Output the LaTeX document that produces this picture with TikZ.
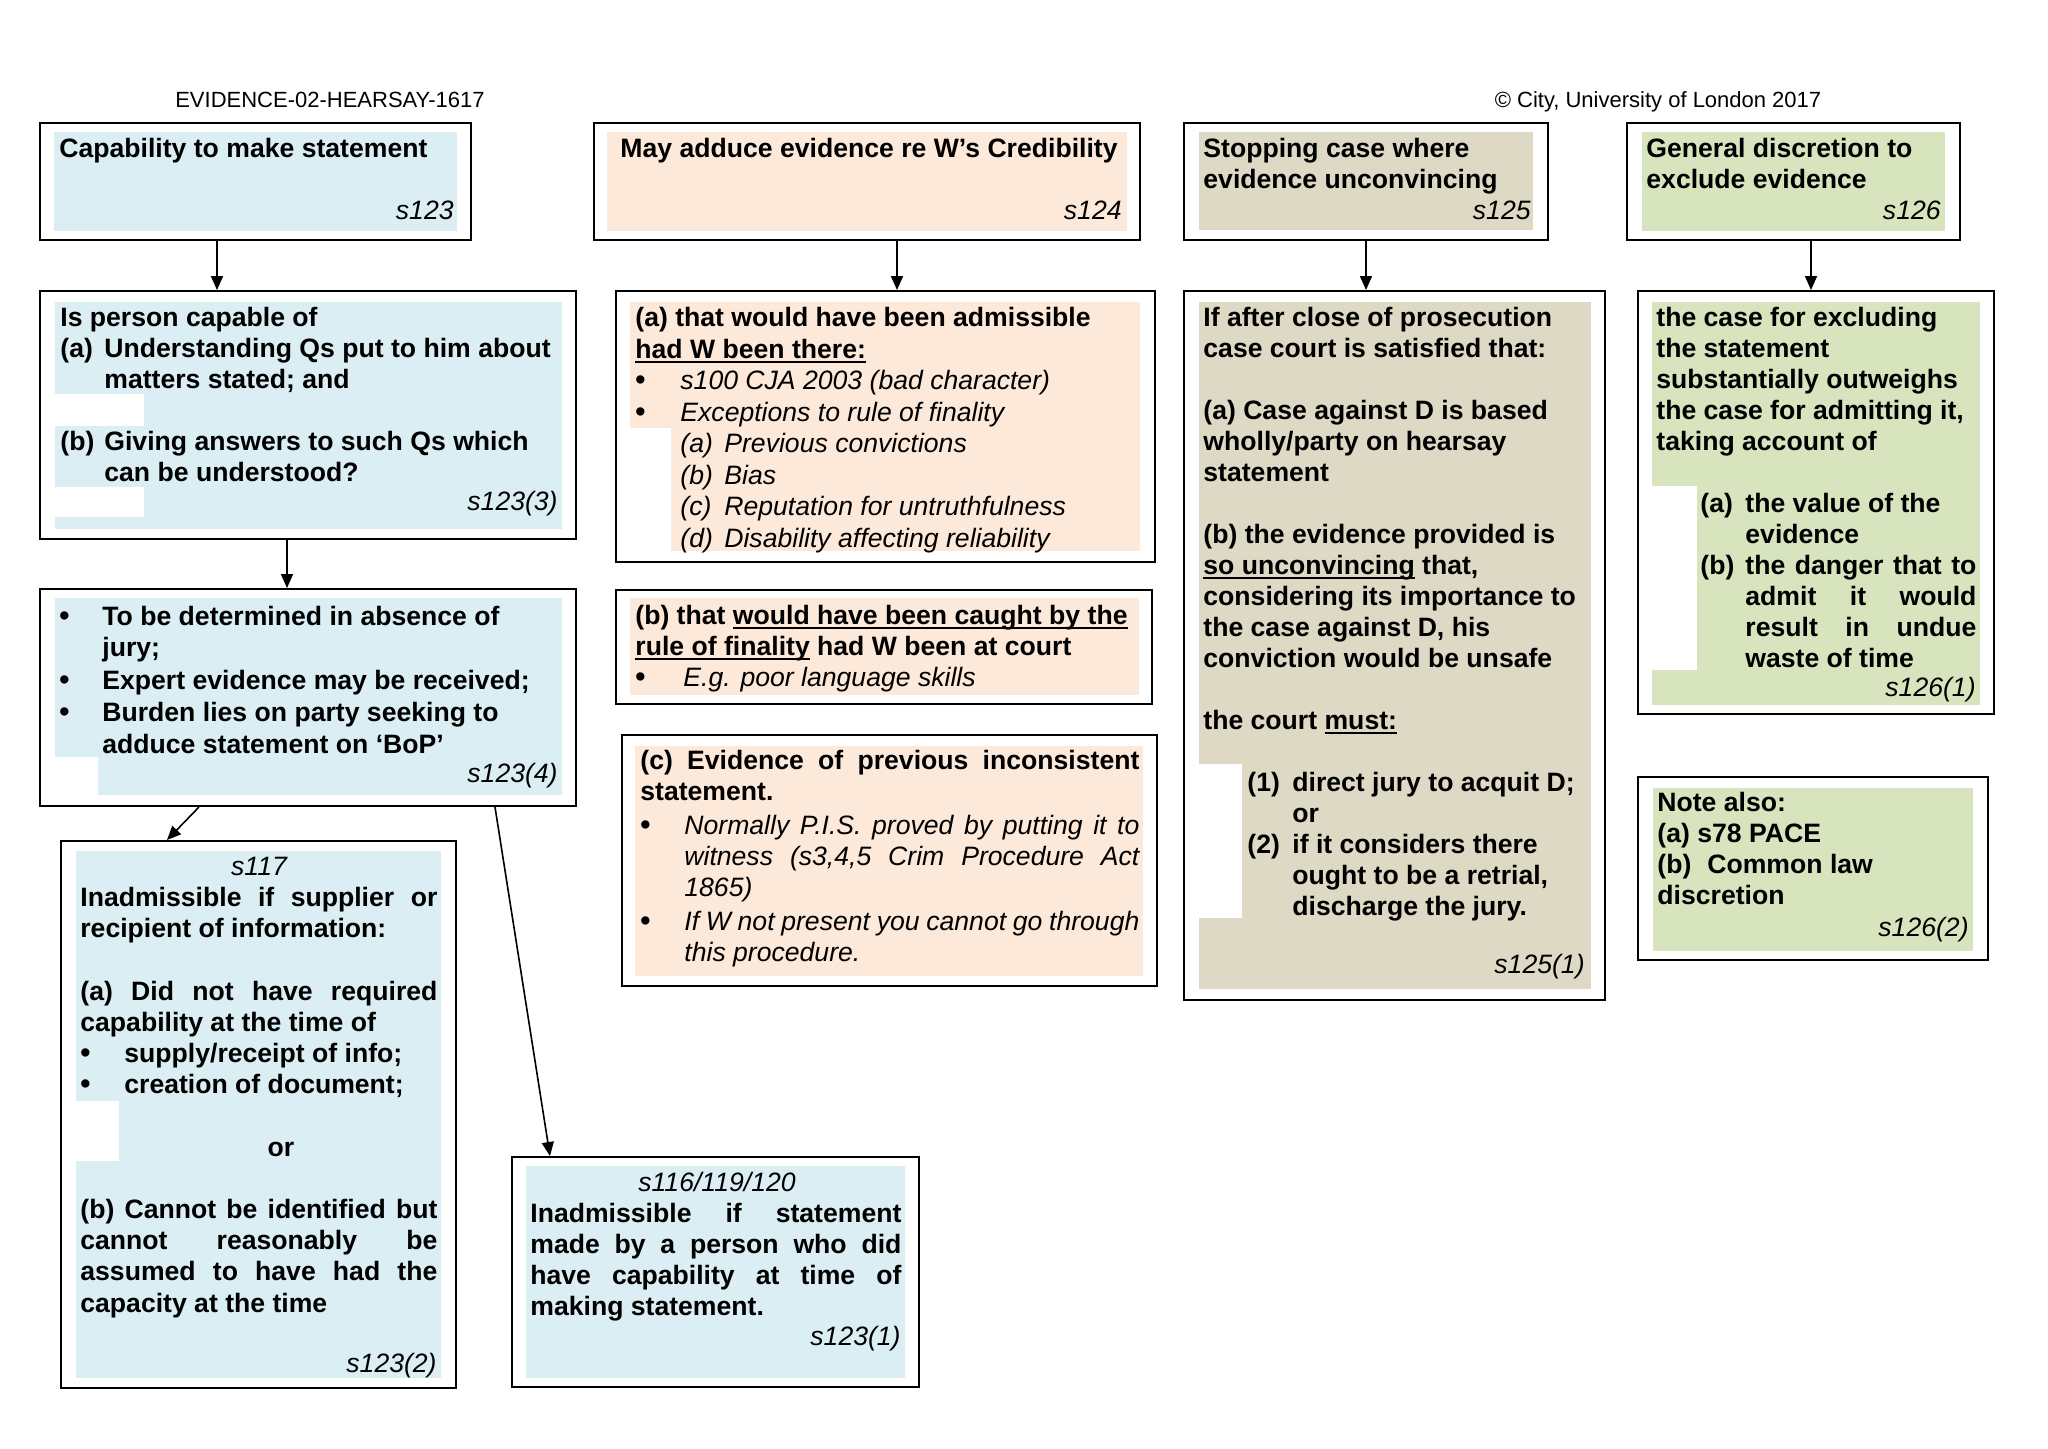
\documentclass[tikz,border=0pt]{standalone}
\usepackage{fontspec}
\setmainfont{Liberation Sans}
\usetikzlibrary{arrows.meta,fit}
\definecolor{bluef}{RGB}{218,238,243}
\definecolor{peachf}{RGB}{253,233,217}
\definecolor{tanf}{RGB}{221,217,196}
\definecolor{greenf}{RGB}{215,228,189}
\newcommand\bodyfont{\fontsize{13.3}{15.5}\selectfont}
\newcommand\bodyfontb{\fontsize{13.3}{15.75}\selectfont}
\newcommand\justline[2]{\makebox[#1][s]{#2}}
\newcommand\bul[1]{\makebox[#1][l]{\fontsize{14.5}{14.5}\selectfont •}}
\newcommand\itl[1]{{\mdseries\itshape #1}}
\newcommand\ulx[1]{\setbox0=\hbox{#1}\rlap{\rule[-2.3pt]{\wd0}{0.9pt}}\box0\relax}
\tikzset{
 frame/.style={draw=black, line width=1pt, inner sep=0pt},
 txt/.style={anchor=north west, inner sep=0pt, align=left, font=\bodyfont\bfseries},
 txtb/.style={txt, font=\bodyfontb\bfseries},
 ref/.style={anchor=base east, inner sep=0pt, font=\bodyfont\itshape},
 reftop/.style={anchor=base, inner sep=0pt, font=\bodyfont\itshape},
 arr/.style={line width=0.8pt, -{Triangle[length=7pt,width=6pt]}},
 hdr/.style={anchor=base, inner sep=0pt, font=\fontsize{11}{13}\selectfont},
}
\begin{document}
\begin{tikzpicture}[x=0.5pt,y=-0.5pt]
\fill[white] (0,0) rectangle (2048,1448);
\useasboundingbox (0,0) rectangle (2048,1448);

% header
\node[hdr] (hleft) at (330,107) {EVIDENCE-02-HEARSAY-1617};
\node[hdr] (hright) at (1658,107) {© City, University of London 2017};

% ---------- fills ----------
\fill[bluef] (54,132) rectangle (457,231);
\fill[bluef] (55,302) rectangle (562,529);
\fill[white] (55,394) rectangle (144,426);
\fill[white] (55,487) rectangle (144,517);
\fill[bluef] (55,598) rectangle (562,795);
\fill[white] (55,757) rectangle (98,795);
\fill[bluef] (76,851) rectangle (441,1378);
\fill[white] (76,1101) rectangle (119,1161);
\fill[bluef] (526,1166) rectangle (905,1378);

\fill[peachf] (607,132) rectangle (1127,231);
\fill[peachf] (630,302) rectangle (1140,551);
\fill[white] (630,428) rectangle (671,551);
\fill[peachf] (630,598) rectangle (1139,695);
\fill[peachf] (635,746) rectangle (1143,976);

\fill[tanf] (1199,132) rectangle (1533,230);
\fill[tanf] (1199,302) rectangle (1591,989);
\fill[white] (1199,764) rectangle (1242,918);

\fill[greenf] (1642,132) rectangle (1945,231);
\fill[greenf] (1652,302) rectangle (1980,705);
\fill[white] (1652,486) rectangle (1697,670);
\fill[greenf] (1653,788) rectangle (1973,951);

% ---------- frames ----------
\node[frame, fit={(40,123)(471,240)}] (cap) {};
\node[frame, fit={(40,291)(576,539)}] (capq) {};
\node[frame, fit={(40,589)(576,806)}] (capd) {};
\node[frame, fit={(61,841)(456,1388)}] (sa) {};
\node[frame, fit={(512,1157)(919,1387)}] (sb) {};
\node[frame, fit={(594,123)(1140,240)}] (cred) {};
\node[frame, fit={(616,291)(1155,562)}] (creda) {};
\node[frame, fit={(616,590)(1152,704)}] (credb) {};
\node[frame, fit={(622,735)(1157,986)}] (credc) {};
\node[frame, fit={(1184,123)(1548,240)}] (stop) {};
\node[frame, fit={(1184,291)(1605,1000)}] (stopa) {};
\node[frame, fit={(1627,123)(1960,240)}] (disc) {};
\node[frame, fit={(1638,291)(1994,714)}] (disca) {};
\node[frame, fit={(1638,777)(1988,960)}] (note) {};

% ---------- texts: column 1 ----------
\node[txt] (capT) at (59,135.3) {\strut Capability to make statement};
\node[ref] (capR) at (454,219) {s123};

\node[txt] (capqT) at (60,304.3) {\strut Is person capable of\\
\makebox[22pt][l]{(a)}Understanding Qs put to him about\\
\hspace*{22pt}matters stated; and\\
\strut\\
\makebox[22pt][l]{(b)}Giving answers to such Qs which\\
\hspace*{22pt}can be understood?};
\node[ref] (capqR) at (558,510) {s123(3)};

\node[txt] (capdT) at (59,603.3) {\strut\bul{21.5pt}To be determined in absence of\\
\hspace*{21.5pt}jury;\\[0.8pt]
\bul{21.5pt}Expert evidence may be received;\\[0.8pt]
\bul{21.5pt}Burden lies on party seeking to\\[0.3pt]
\hspace*{21.5pt}adduce statement on ‘BoP’};
\node[ref] (capdR) at (558,782) {s123(4)};

\node[reftop] (saH) at (259,875) {s117};
\node[txt, font=\fontsize{13.3}{15.6}\selectfont\bfseries] (saT) at (80,884.3) {\strut\justline{178.5pt}{Inadmissible if supplier or}\\
recipient of information:\\
\strut\\
\justline{178.5pt}{(a) Did not have required}\\
capability at the time of\\
\bul{22pt}supply/receipt of info;\\
\bul{22pt}creation of document;\\
\strut\\
\hspace*{22pt}\makebox[156.5pt][c]{or}\\
\strut\\
\justline{178.5pt}{(b) Cannot be identified but}\\
\justline{178.5pt}{cannot reasonably be}\\
\justline{178.5pt}{assumed to have had the}\\
capacity at the time};
\node[ref] (saR) at (437,1372) {s123(2)};

\node[reftop] (sbH) at (717,1191) {s116/119/120};
\node[txt] (sbT) at (530,1200.3) {\strut\justline{185.5pt}{Inadmissible if statement}\\
\justline{185.5pt}{made by a person who did}\\
\justline{185.5pt}{have capability at time of}\\
making statement.};
\node[ref] (sbR) at (901,1345) {s123(1)};

% ---------- texts: column 2 ----------
\node[txt] (credT) at (620,135.3) {\strut May adduce evidence re W’s Credibility};
\node[ref] (credR) at (1122,219) {s124};

\node[txtb] (credaT) at (635,304.3) {\strut (a) that would have been admissible\\
\ulx{had W been there:}\\
\bul{22.5pt}\itl{s100 CJA 2003 (bad character)}\\
\bul{22.5pt}\itl{Exceptions to rule of finality}\\
\hspace*{22.5pt}\itl{\makebox[22pt][l]{(a)}Previous convictions}\\
\hspace*{22.5pt}\itl{\makebox[22pt][l]{(b)}Bias}\\
\hspace*{22.5pt}\itl{\makebox[22pt][l]{(c)}Reputation for untruthfulness}\\
\hspace*{22.5pt}\itl{\makebox[22pt][l]{(d)}Disability affecting reliability}};

\node[txt] (credbT) at (635,602.3) {\strut (b) that \ulx{would have been caught by the}\\
\ulx{rule of finality} had W been at court\\
\bul{24pt}\itl{E.g. poor language skills}};

\node[txt] (credcT) at (640,747.3) {\strut\justline{249.5pt}{(c) Evidence of previous inconsistent}\\
statement.\\[1.5pt]
\bul{22pt}\justline{227.5pt}{\mdseries\itshape Normally P.I.S. proved by putting it to}\\
\hspace*{22pt}\justline{227.5pt}{\mdseries\itshape witness (s3,4,5 Crim Procedure Act}\\
\hspace*{22pt}\itl{1865)}\\[1.5pt]
\bul{22pt}\justline{227.5pt}{\mdseries\itshape If W not present you cannot go through}\\
\hspace*{22pt}\itl{this procedure.}};

% ---------- texts: column 3 ----------
\node[txt] (stopT) at (1203,135.3) {\strut Stopping case where\\evidence unconvincing};
\node[ref] (stopR) at (1531,219) {s125};

\node[txt] (stopaT) at (1203,304.3) {\strut If after close of prosecution\\
case court is satisfied that:\\
\strut\\
(a) Case against D is based\\
wholly/party on hearsay\\
statement\\
\strut\\
(b) the evidence provided is\\
\ulx{so unconvincing} that,\\
considering its importance to\\
the case against D, his\\
conviction would be unsafe\\
\strut\\
the court \ulx{must:}\\
\strut\\
\hspace*{22pt}\makebox[22.5pt][l]{(1)}direct jury to acquit D;\\
\hspace*{44.5pt}or\\
\hspace*{22pt}\makebox[22.5pt][l]{(2)}if it considers there\\
\hspace*{44.5pt}ought to be a retrial,\\
\hspace*{44.5pt}discharge the jury.};
\node[ref] (stopaR) at (1585,973) {s125(1)};

% ---------- texts: column 4 ----------
\node[txt] (discT) at (1646,135.3) {\strut General discretion to\\exclude evidence};
\node[ref] (discR) at (1941,219) {s126};

\node[txt] (discaT) at (1656,304.3) {\strut the case for excluding\\
the statement\\
substantially outweighs\\
the case for admitting it,\\
taking account of\\
\strut\\
\hspace*{22pt}\makebox[22.5pt][l]{(a)}the value of the\\
\hspace*{44.5pt}evidence\\
\hspace*{22pt}\makebox[22.5pt][l]{(b)}\justline{115.5pt}{the danger that to}\\
\hspace*{44.5pt}\justline{115.5pt}{admit it would}\\
\hspace*{44.5pt}\justline{115.5pt}{result in undue}\\
\hspace*{44.5pt}waste of time};
\node[ref] (discaR) at (1976,696) {s126(1)};

\node[txt] (noteT) at (1657,789.3) {\strut Note also:\\
(a) s78 PACE\\
(b)\hspace{8pt}Common law\\
discretion};
\node[ref] (noteR) at (1969,936) {s126(2)};

% ---------- connectors ----------
\draw[arr] (cap.south -| 217,0) -- (capq.north -| 217,0);
\draw[arr] (capq.south -| 287,0) -- (capd.north -| 287,0);
\draw[arr] (capd.south -| 199,0) -- (sa.north -| 167,0);
\draw[arr] (capd.south -| 495,0) -- (sb.north -| 550,0);
\draw[arr] (cred.south -| 897,0) -- (creda.north -| 897,0);
\draw[arr] (stop.south -| 1366,0) -- (stopa.north -| 1366,0);
\draw[arr] (disc.south -| 1811,0) -- (disca.north -| 1811,0);
\end{tikzpicture}
\end{document}
